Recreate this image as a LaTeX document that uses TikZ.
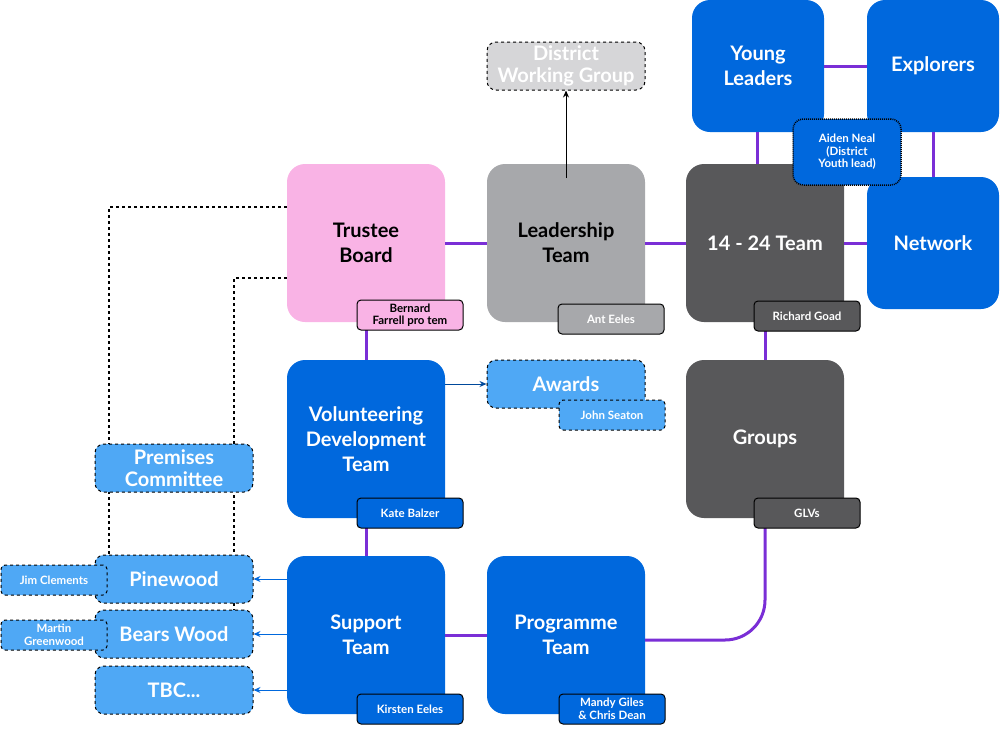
\documentclass[tikz,border=0pt]{standalone}
\usepackage{fontspec}
\setmainfont{Lato}
\usetikzlibrary{arrows.meta}
\definecolor{pinkb}{HTML}{F9B3E5}
\definecolor{grayb}{HTML}{A7A8AB}
\definecolor{dgray}{HTML}{58585A}
\definecolor{blueb}{HTML}{0068DD}
\definecolor{lblue}{HTML}{4FA8F5}
\definecolor{lgray}{HTML}{D6D6D8}
\definecolor{purp}{HTML}{7A2ED6}
\tikzset{
 big/.style={minimum width=158pt,minimum height=158pt,rounded corners=18pt,inner sep=0pt,align=center,font=\fontsize{20}{25}\selectfont\bfseries,text=white,fill=blueb},
 side/.style={minimum width=158pt,minimum height=48pt,rounded corners=9pt,inner sep=0pt,align=center,font=\fontsize{20}{22}\selectfont\bfseries,text=white,fill=lblue,draw=black,dashed,line width=1pt},
 tag/.style={minimum width=106pt,minimum height=30pt,rounded corners=4pt,inner sep=1pt,align=center,font=\fontsize{11.5}{12.5}\selectfont\bfseries,text=white,draw=black,line width=1pt},
 dtag/.style={tag,fill=lblue,dashed},
 link/.style={purp,line width=3pt},
 dl/.style={black,dashed,line width=1.3pt},
 arr/.style={-{Stealth[length=7pt,width=6pt]},line width=1pt}
}
\begin{document}
\begin{tikzpicture}[x=1pt,y=-1pt]
\useasboundingbox (0,0) rectangle (1000,731);
% dashed lines behind
\coordinate (d1a) at (109,207); \coordinate (d1b) at (109,556);
\coordinate (d2a) at (234,278); \coordinate (d2b) at (234,610);
% big nodes
\node[big,fill=pinkb,text=black] (tb) at (366,243) {Trustee\\Board};
\node[big,fill=grayb,text=black] (lt) at (566,243) {Leadership\\Team};
\node[big,fill=dgray] (yt) at (765,243) {14 - 24 Team};
\node[big,minimum width=132pt,minimum height=132pt] (yl) at (758,66) {Young\\Leaders};
\node[big,minimum width=132pt,minimum height=132pt] (ex) at (933,66) {Explorers};
\node[big,minimum width=132pt,minimum height=132pt] (nw) at (933,243) {Network};
\node[big] (vd) at (366,439) {Volunteering\\Development\\Team};
\node[big,fill=dgray] (gr) at (765,439) {Groups};
\node[big] (st) at (366,635) {Support\\Team};
\node[big] (pt) at (566,635) {Programme\\Team};
% dashed connectors
\draw[dl] (tb.west |- d1a) -- (d1a) -- (d1b);
\draw[dl] (tb.west |- d2a) -- (d2a) -- (d2b);
% side nodes
\node[side,fill=lgray] (dw) at (566,66) {District\\Working Group};
\node[side] (aw) at (566,384) {Awards};
\node[side] (pc) at (174,468) {Premises\\Committee};
\node[side] (pw) at (174,579) {Pinewood};
\node[side] (bw) at (174,634) {Bears Wood};
\node[side] (tbc) at (174,690) {TBC...};
% links
\draw[link] (tb) -- (lt);
\draw[link] (lt) -- (yt);
\draw[link] (yt) -- (nw);
\draw[link] (yl) -- (ex);
\draw[link] (yl.south -| yt.north) ++(-8,0) coordinate (ylb);
\draw[link] (757,132) -- (757,164);
\draw[link] (ex) -- (nw);
\draw[link] (tb) -- (vd);
\draw[link] (vd) -- (st);
\draw[link] (st) -- (pt);
\draw[link] (yt) -- (gr);
\draw[link] (gr.south) -- (765,600) to[out=-90,in=0] (725,640) -- (pt.east |- 0,640);
% arrows
\draw[arr] (566,178) -- (dw.south);
\draw[arr,blueb!70!black] (vd.east |- aw) -- (aw.west);
\draw[arr,blueb] (st.west |- pw) -- (pw.east);
\draw[arr,blueb] (st.west |- bw) -- (bw.east);
\draw[arr,blueb] (st.west |- tbc) -- (tbc.east);
% tags
\node[tag,fill=blueb,draw=black,densely dotted,line width=1.5pt,minimum width=108pt,minimum height=66pt,rounded corners=10pt] (an) at (847,152) {Aiden Neal\\(District\\Youth lead)};
\node[tag,fill=pinkb,text=black] (bf) at (410,315) {Bernard\\Farrell pro tem};
\node[tag,fill=grayb] (ae) at (611,319) {Ant Eeles};
\node[tag,fill=dgray] (rg) at (807,316) {Richard Goad};
\node[tag,fill=blueb] (kb) at (410,513) {Kate Balzer};
\node[tag,fill=dgray] (gl) at (807,513) {GLVs};
\node[tag,fill=blueb] (ke) at (410,709) {Kirsten Eeles};
\node[tag,fill=blueb] (mg) at (612,709) {Mandy Giles\\\& Chris Dean};
\node[dtag] (js) at (612,415) {John Seaton};
\node[dtag] (jc) at (54,580) {Jim Clements};
\node[dtag] (mgw) at (54,635) {Martin\\Greenwood};
\end{tikzpicture}
\end{document}
